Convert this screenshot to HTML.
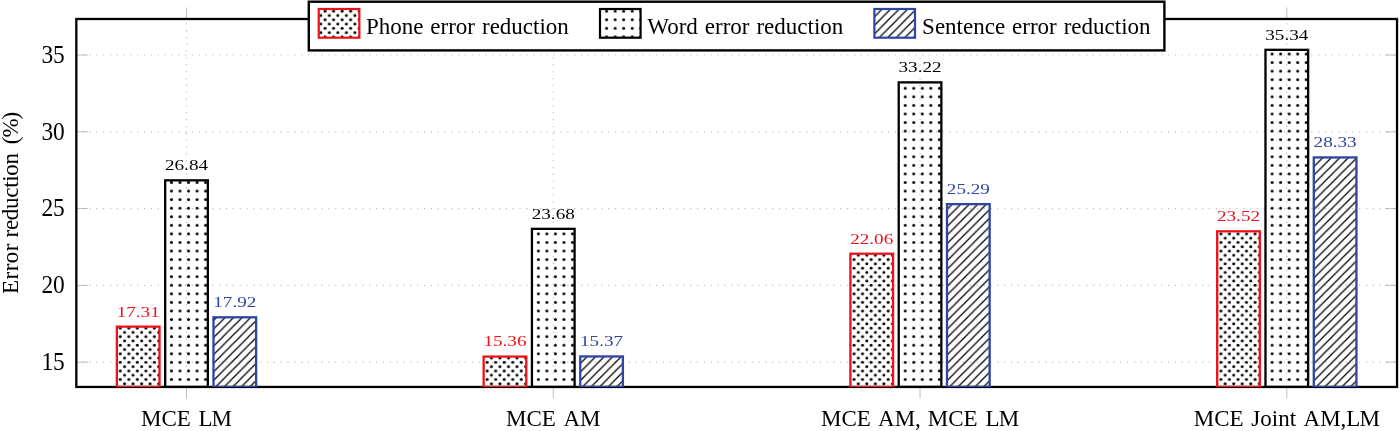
<!DOCTYPE html>
<html><head><meta charset="utf-8"><title>Error reduction chart</title>
<style>html,body{margin:0;padding:0;background:#fff}svg{display:block}</style></head>
<body>
<svg width="1400" height="431" viewBox="0 0 1400 431">
<defs>
<pattern id="pd" patternUnits="userSpaceOnUse" x="-3.426" y="-1.687" width="8.532" height="8.565"><circle cx="4.266" cy="4.2825" r="1.5" fill="#000"/></pattern>
<pattern id="pc" patternUnits="userSpaceOnUse" x="-1.293" y="0.454" width="8.532" height="8.565"><circle cx="2.133" cy="2.14125" r="1.5" fill="#000"/><circle cx="6.399" cy="6.42375" r="1.5" fill="#000"/></pattern>
<pattern id="ph" patternUnits="userSpaceOnUse" x="0.840" y="2.995" width="8.532" height="8.565"><path d="M-1 9.565L9.532 -1M-1 1L1 -1M7.532 9.565L9.532 7.5649999999999995" stroke="#000" stroke-width="1.25" fill="none"/></pattern>
</defs>
<rect width="1400" height="431" fill="#fff"/>
<path d="M76.33 362.12H1397.03" stroke="#bdbdbd" stroke-width="1.15" stroke-dasharray="1.14 5.686" stroke-dashoffset="0.5" fill="none"/>
<path d="M76.33 285.35H1397.03" stroke="#bdbdbd" stroke-width="1.15" stroke-dasharray="1.14 5.686" stroke-dashoffset="0.5" fill="none"/>
<path d="M76.33 208.58H1397.03" stroke="#bdbdbd" stroke-width="1.15" stroke-dasharray="1.14 5.686" stroke-dashoffset="0.5" fill="none"/>
<path d="M76.33 131.81H1397.03" stroke="#bdbdbd" stroke-width="1.15" stroke-dasharray="1.14 5.686" stroke-dashoffset="0.5" fill="none"/>
<path d="M76.33 55.04H1397.03" stroke="#bdbdbd" stroke-width="1.15" stroke-dasharray="1.14 5.686" stroke-dashoffset="0.5" fill="none"/>
<path d="M186.50 19.0V386.95" stroke="#bdbdbd" stroke-width="1.15" stroke-dasharray="1.14 5.706" stroke-dashoffset="2.6" fill="none"/>
<path d="M553.27 19.0V386.95" stroke="#bdbdbd" stroke-width="1.15" stroke-dasharray="1.14 5.706" stroke-dashoffset="2.6" fill="none"/>
<path d="M920.04 19.0V386.95" stroke="#bdbdbd" stroke-width="1.15" stroke-dasharray="1.14 5.706" stroke-dashoffset="2.6" fill="none"/>
<path d="M1286.81 19.0V386.95" stroke="#bdbdbd" stroke-width="1.15" stroke-dasharray="1.14 5.706" stroke-dashoffset="2.6" fill="none"/>
<path d="M76.33 362.12h11.6M1397.03 362.12h-11.6" stroke="#888" stroke-width="0.55" fill="none"/>
<path d="M76.33 285.35h11.6M1397.03 285.35h-11.6" stroke="#888" stroke-width="0.55" fill="none"/>
<path d="M76.33 208.58h11.6M1397.03 208.58h-11.6" stroke="#888" stroke-width="0.55" fill="none"/>
<path d="M76.33 131.81h11.6M1397.03 131.81h-11.6" stroke="#888" stroke-width="0.55" fill="none"/>
<path d="M76.33 55.04h11.6M1397.03 55.04h-11.6" stroke="#888" stroke-width="0.55" fill="none"/>
<path d="M186.50 19.0V7.5M186.50 386.95V398.5" stroke="#888" stroke-width="0.55" fill="none"/>
<path d="M553.27 19.0V7.5M553.27 386.95V398.5" stroke="#888" stroke-width="0.55" fill="none"/>
<path d="M920.04 19.0V7.5M920.04 386.95V398.5" stroke="#888" stroke-width="0.55" fill="none"/>
<path d="M1286.81 19.0V7.5M1286.81 386.95V398.5" stroke="#888" stroke-width="0.55" fill="none"/>
<rect x="76.33" y="19.0" width="1320.7" height="367.95" fill="none" stroke="#000" stroke-width="2.3"/>
<clipPath id="cp"><rect x="76.33" y="19.0" width="1320.7" height="367.95"/></clipPath>
<g clip-path="url(#cp)">
<rect x="116.87" y="326.65" width="42.65" height="60.30" fill="url(#pc)" stroke="#ee1119" stroke-width="2.3"/>
<rect x="165.18" y="180.33" width="42.65" height="206.62" fill="url(#pd)" stroke="#000" stroke-width="2.3"/>
<rect x="213.48" y="317.29" width="42.65" height="69.66" fill="url(#ph)" stroke="#2e45a5" stroke-width="2.3"/>
<rect x="483.64" y="356.59" width="42.65" height="30.36" fill="url(#pc)" stroke="#ee1119" stroke-width="2.3"/>
<rect x="531.94" y="228.85" width="42.65" height="158.10" fill="url(#pd)" stroke="#000" stroke-width="2.3"/>
<rect x="580.24" y="356.44" width="42.65" height="30.51" fill="url(#ph)" stroke="#2e45a5" stroke-width="2.3"/>
<rect x="850.41" y="253.72" width="42.65" height="133.23" fill="url(#pc)" stroke="#ee1119" stroke-width="2.3"/>
<rect x="898.71" y="82.37" width="42.65" height="304.58" fill="url(#pd)" stroke="#000" stroke-width="2.3"/>
<rect x="947.01" y="204.13" width="42.65" height="182.82" fill="url(#ph)" stroke="#2e45a5" stroke-width="2.3"/>
<rect x="1217.18" y="231.30" width="42.65" height="155.65" fill="url(#pc)" stroke="#ee1119" stroke-width="2.3"/>
<rect x="1265.48" y="49.82" width="42.65" height="337.13" fill="url(#pd)" stroke="#000" stroke-width="2.3"/>
<rect x="1313.78" y="157.45" width="42.65" height="229.50" fill="url(#ph)" stroke="#2e45a5" stroke-width="2.3"/>
</g>
<text x="138.20" y="316.50" text-anchor="middle" font-family="Liberation Serif, serif" font-size="13.7" fill="#ee1119" textLength="43" lengthAdjust="spacingAndGlyphs">17.31</text>
<text x="186.50" y="170.18" text-anchor="middle" font-family="Liberation Serif, serif" font-size="13.7" fill="#000" textLength="43" lengthAdjust="spacingAndGlyphs">26.84</text>
<text x="234.80" y="307.14" text-anchor="middle" font-family="Liberation Serif, serif" font-size="13.7" fill="#2e45a5" textLength="43" lengthAdjust="spacingAndGlyphs">17.92</text>
<text x="504.97" y="346.44" text-anchor="middle" font-family="Liberation Serif, serif" font-size="13.7" fill="#ee1119" textLength="43" lengthAdjust="spacingAndGlyphs">15.36</text>
<text x="553.27" y="218.70" text-anchor="middle" font-family="Liberation Serif, serif" font-size="13.7" fill="#000" textLength="43" lengthAdjust="spacingAndGlyphs">23.68</text>
<text x="601.57" y="346.29" text-anchor="middle" font-family="Liberation Serif, serif" font-size="13.7" fill="#2e45a5" textLength="43" lengthAdjust="spacingAndGlyphs">15.37</text>
<text x="871.74" y="243.57" text-anchor="middle" font-family="Liberation Serif, serif" font-size="13.7" fill="#ee1119" textLength="43" lengthAdjust="spacingAndGlyphs">22.06</text>
<text x="920.04" y="72.22" text-anchor="middle" font-family="Liberation Serif, serif" font-size="13.7" fill="#000" textLength="43" lengthAdjust="spacingAndGlyphs">33.22</text>
<text x="968.34" y="193.98" text-anchor="middle" font-family="Liberation Serif, serif" font-size="13.7" fill="#2e45a5" textLength="43" lengthAdjust="spacingAndGlyphs">25.29</text>
<text x="1238.51" y="221.15" text-anchor="middle" font-family="Liberation Serif, serif" font-size="13.7" fill="#ee1119" textLength="43" lengthAdjust="spacingAndGlyphs">23.52</text>
<text x="1286.81" y="39.67" text-anchor="middle" font-family="Liberation Serif, serif" font-size="13.7" fill="#000" textLength="43" lengthAdjust="spacingAndGlyphs">35.34</text>
<text x="1335.11" y="147.30" text-anchor="middle" font-family="Liberation Serif, serif" font-size="13.7" fill="#2e45a5" textLength="43" lengthAdjust="spacingAndGlyphs">28.33</text>
<text x="64.8" y="370.02" text-anchor="end" font-family="Liberation Serif, serif" font-size="25" fill="#000" textLength="23.4" lengthAdjust="spacingAndGlyphs">15</text>
<text x="64.8" y="293.25" text-anchor="end" font-family="Liberation Serif, serif" font-size="25" fill="#000" textLength="23.4" lengthAdjust="spacingAndGlyphs">20</text>
<text x="64.8" y="216.48" text-anchor="end" font-family="Liberation Serif, serif" font-size="25" fill="#000" textLength="23.4" lengthAdjust="spacingAndGlyphs">25</text>
<text x="64.8" y="139.71" text-anchor="end" font-family="Liberation Serif, serif" font-size="25" fill="#000" textLength="23.4" lengthAdjust="spacingAndGlyphs">30</text>
<text x="64.8" y="62.94" text-anchor="end" font-family="Liberation Serif, serif" font-size="25" fill="#000" textLength="23.4" lengthAdjust="spacingAndGlyphs">35</text>
<text x="186.50" y="425.8" text-anchor="middle" font-family="Liberation Serif, serif" font-size="23" fill="#000" style="white-space:pre">MCE<tspan dx="2.0"> L</tspan><tspan dx="-1.0">M</tspan></text>
<text x="553.27" y="425.8" text-anchor="middle" font-family="Liberation Serif, serif" font-size="23" fill="#000" style="white-space:pre">MCE<tspan dx="3.2"> AM</tspan></text>
<text x="920.04" y="425.8" text-anchor="middle" font-family="Liberation Serif, serif" font-size="23" fill="#000" style="white-space:pre">MCE<tspan dx="2.8"> AM,</tspan><tspan dx="1.2"> MCE</tspan><tspan dx="2.2"> L</tspan><tspan dx="-1.0">M</tspan></text>
<text x="1286.81" y="425.8" text-anchor="middle" font-family="Liberation Serif, serif" font-size="23" fill="#000" style="white-space:pre">MCE<tspan dx="2.0"> Joint</tspan><tspan dx="3.0"> AM,</tspan>L<tspan dx="-1.0">M</tspan></text>
<text transform="translate(17.5 294) rotate(-90)" font-family="Liberation Serif, serif" font-size="23" fill="#000"><tspan x="0" letter-spacing="0.5">Error</tspan><tspan x="56.6" letter-spacing="-0.3">reduction</tspan><tspan x="149.8" letter-spacing="-1">(%)</tspan></text>
<rect x="308.8" y="1.7" width="855.6000000000001" height="48.699999999999996" fill="#fff" stroke="#000" stroke-width="2.4"/>
<rect x="318.75" y="9.00" width="40.60" height="28.70" fill="url(#pc)" stroke="#ee1119" stroke-width="2.2"/>
<rect x="600.00" y="9.00" width="40.60" height="28.70" fill="url(#pd)" stroke="#000" stroke-width="2.2"/>
<rect x="874.40" y="9.00" width="40.60" height="28.70" fill="url(#ph)" stroke="#2e45a5" stroke-width="2.2"/>
<text x="365.9" y="34.4" font-family="Liberation Serif, serif" font-size="23" word-spacing="1.2" fill="#000">Phone error reduction</text>
<text x="647.3000000000001" y="34.4" font-family="Liberation Serif, serif" font-size="23" word-spacing="1.2" fill="#000">Word error reduction</text>
<text x="922.1" y="34.4" font-family="Liberation Serif, serif" font-size="23" word-spacing="1.2" fill="#000">Sentence error reduction</text>
</svg>
</body></html>
